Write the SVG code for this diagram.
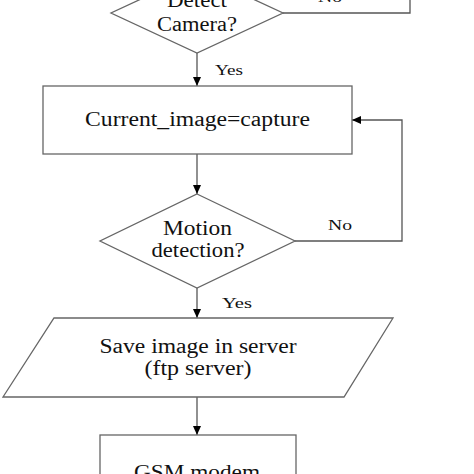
<svg xmlns="http://www.w3.org/2000/svg" width="474" height="474" viewBox="0 0 474 474">
<defs>
<style>
.shape{fill:#ffffff;stroke:#666666;stroke-width:1.3}
.conn{fill:none;stroke:#555555;stroke-width:1.3}
.t{font-family:"Liberation Serif","Times New Roman",serif;font-size:20px;fill:#111111;text-anchor:middle}
.lbl{font-family:"Liberation Serif","Times New Roman",serif;font-size:15px;fill:#111111}
</style>
<marker id="arr" viewBox="0 0 10 10" refX="10" refY="5" markerWidth="9" markerHeight="8" markerUnits="userSpaceOnUse" orient="auto" preserveAspectRatio="none">
<path d="M0,0 L10,5 L0,10 z" fill="#000000"/>
</marker>
</defs>
<rect width="474" height="474" fill="#ffffff"/>
<g id="connectors">
<line class="conn" x1="197" y1="53" x2="197" y2="86" marker-end="url(#arr)"/>
<polyline class="conn" points="283,13 410,13 410,-5"/>
<line class="conn" x1="197" y1="154" x2="197" y2="194" marker-end="url(#arr)"/>
<polyline class="conn" points="295,241 402,241 402,120 352,120" marker-end="url(#arr)"/>
<line class="conn" x1="197" y1="288" x2="197" y2="318" marker-end="url(#arr)"/>
<line class="conn" x1="197" y1="397" x2="197" y2="435" marker-end="url(#arr)"/>
<text class="lbl" x="318" y="2" textLength="24" lengthAdjust="spacingAndGlyphs">No</text>
<text class="lbl" x="215" y="75" textLength="28" lengthAdjust="spacingAndGlyphs">Yes</text>
<text class="lbl" x="328" y="230" textLength="24" lengthAdjust="spacingAndGlyphs">No</text>
<text class="lbl" x="222" y="308" textLength="30" lengthAdjust="spacingAndGlyphs">Yes</text>
</g>
<g id="detect-camera">
<polygon class="shape" points="197,-27 283,13 197,53 111,13"/>
<text class="t" x="197" y="7" textLength="60" lengthAdjust="spacingAndGlyphs">Detect</text>
<text class="t" x="197" y="31" textLength="80" lengthAdjust="spacingAndGlyphs">Camera?</text>
</g>
<g id="capture">
<rect class="shape" x="43" y="86" width="309" height="68"/>
<text class="t" x="197.5" y="126" textLength="225" lengthAdjust="spacingAndGlyphs">Current_image=capture</text>
</g>
<g id="motion-detection">
<polygon class="shape" points="197,194 295,241 197,288 100,241"/>
<text class="t" x="197.5" y="235" textLength="69" lengthAdjust="spacingAndGlyphs">Motion</text>
<text class="t" x="198" y="257" textLength="93" lengthAdjust="spacingAndGlyphs">detection?</text>
</g>
<g id="save-image">
<polygon class="shape" points="54,318 393,318 344,397 3,397"/>
<text class="t" x="198" y="353" textLength="197" lengthAdjust="spacingAndGlyphs">Save image in server</text>
<text class="t" x="198" y="375" textLength="107" lengthAdjust="spacingAndGlyphs">(ftp server)</text>
</g>
<g id="gsm-modem">
<rect class="shape" x="100" y="435" width="196" height="60"/>
<text class="t" x="197" y="479" textLength="126" lengthAdjust="spacingAndGlyphs">GSM modem</text>
</g>
</svg>
